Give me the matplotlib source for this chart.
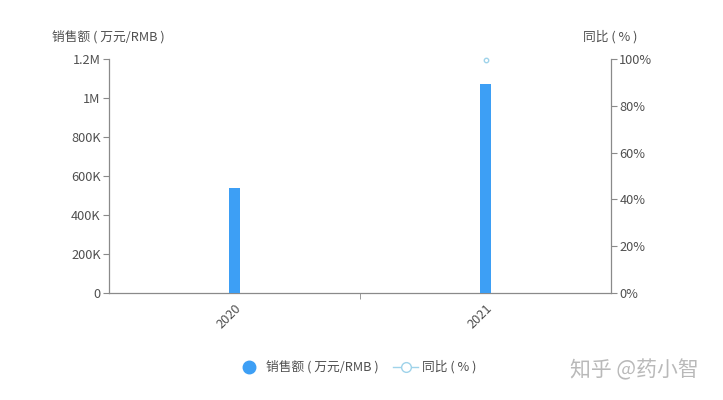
import numpy as np
import matplotlib.pyplot as plt
from matplotlib.ticker import FixedLocator

plt.rcParams['font.family'] = ['Noto Sans CJK SC', 'DejaVu Sans']

years = ['2020', '2021']
sales = [538000, 1072000]          # 销售额（万元/RMB）
growth = [np.nan, 99.5]            # 同比（%）
left_ticks = [0, 200000, 400000, 600000, 800000, 1000000, 1200000]
left_labels = ['0', '200K', '400K', '600K', '800K', '1M', '1.2M']
right_ticks = [0, 20, 40, 60, 80, 100]
right_labels = ['0%', '20%', '40%', '60%', '80%', '100%']

axis_col = '#8a8a8a'
text_col = '#505050'
bar_col = '#3d9ff5'
line_col = '#9fd3ea'
fs = 9.2

fig = plt.figure(figsize=(7.23, 4.0), dpi=100)
ax = fig.add_axes([109/723, 107/400, 502/723, 234/400])
x = np.arange(len(years))

ax.bar(x, sales, width=0.04, color=bar_col, zorder=3)
ax.set_xlim(-0.5, len(years) - 0.5)
ax.set_ylim(0, 1200000)
ax.set_yticks(left_ticks)
ax.set_yticklabels(left_labels)
ax.set_xticks(x)
ax.set_xticklabels(years, rotation=45, ha='right', rotation_mode='anchor')
ax.xaxis.set_minor_locator(FixedLocator([0.5]))
ax.tick_params(axis='x', which='major', length=0, pad=6, labelsize=fs, labelcolor=text_col)
ax.tick_params(axis='x', which='minor', length=4, color=axis_col, direction='out')
ax.tick_params(axis='y', length=4, color=axis_col, labelsize=fs, labelcolor=text_col, pad=2)

for s in ['top', 'right']:
    ax.spines[s].set_visible(False)
for s in ['left', 'bottom']:
    ax.spines[s].set_color(axis_col)
    ax.spines[s].set_linewidth(0.9)

ax2 = ax.twinx()
ax2.plot(x, growth, color=line_col, marker='o', markersize=3.2,
         markerfacecolor='white', markeredgecolor=line_col, linewidth=1, zorder=4,
         clip_on=False)
ax2.set_ylim(0, 100)
ax2.set_yticks(right_ticks)
ax2.set_yticklabels(right_labels)
ax2.tick_params(axis='y', length=4, color=axis_col, labelsize=fs, labelcolor=text_col, pad=2)
for s in ['top', 'left', 'bottom']:
    ax2.spines[s].set_visible(False)
ax2.spines['right'].set_color(axis_col)
ax2.spines['right'].set_linewidth(0.9)

fig.text(52/723, 1 - 37/400, '销售额 ( 万元/RMB )', fontsize=fs, color=text_col, va='center', ha='left')
fig.text(610/723, 1 - 37/400, '同比 ( % )', fontsize=fs, color=text_col, va='center', ha='center')

# legend
fig.lines.append(plt.Line2D([249/723], [1 - 367/400], marker='o', markersize=9,
                            color=bar_col, linestyle='none', transform=fig.transFigure))
fig.text(266/723, 1 - 367/400, '销售额 ( 万元/RMB )', fontsize=fs, color=text_col, va='center')
fig.lines.append(plt.Line2D([393/723, 418/723], [1 - 367/400, 1 - 367/400], color=line_col,
                            linewidth=1, transform=fig.transFigure))
fig.lines.append(plt.Line2D([405.5/723], [1 - 367/400], marker='o', markersize=7,
                            markerfacecolor='white', markeredgecolor=line_col,
                            linestyle='none', transform=fig.transFigure))
fig.text(422/723, 1 - 367/400, '同比 ( % )', fontsize=fs, color=text_col, va='center')

fig.text(570/723, 1 - 370/400, '知乎 @药小智', fontsize=15, color='#a8a8a8', va='center', alpha=0.8)

fig.savefig('out.png', dpi=100)
